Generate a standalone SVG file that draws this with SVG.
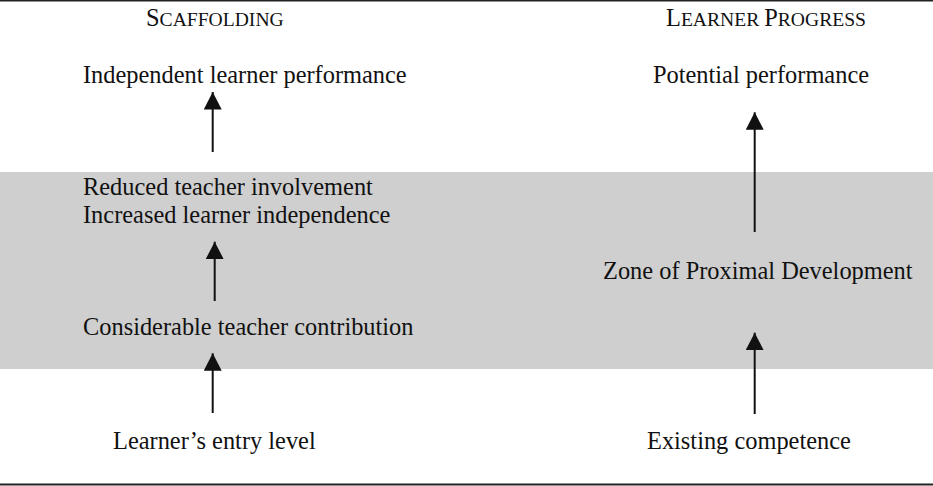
<svg xmlns="http://www.w3.org/2000/svg" width="933" height="486" viewBox="0 0 933 486">
<style>
text{font-family:"Liberation Serif","Times New Roman",serif;font-size:24.4px;fill:#111;}
.ttl{font-size:24.4px;}
.sc{font-size:19.6px;}
.conn line{stroke:#111;stroke-width:2;}
</style>
<defs>
<marker id="ah" markerUnits="userSpaceOnUse" markerWidth="18" markerHeight="18" refX="17.5" refY="9" orient="auto">
<path d="M0,0 L17.5,9 L0,18 Z" fill="#111"/>
</marker>
</defs>
<rect x="0" y="0" width="933" height="486" fill="#fff"/>
<rect id="zone-band" x="0" y="172" width="933" height="197" fill="#cfcfcf"/>
<line x1="0" y1="0.5" x2="933" y2="0.5" stroke="#222" stroke-width="2"/>
<line x1="0" y1="484.5" x2="933" y2="484.5" stroke="#222" stroke-width="2"/>

<g id="title-scaffolding"><text class="ttl" x="146" y="25.5">S<tspan class="sc">CAFFOLDING</tspan></text></g>
<g id="title-learner-progress"><text class="ttl" x="666" y="25.5">L<tspan class="sc">EARNER </tspan>P<tspan class="sc">ROGRESS</tspan></text></g>

<g id="node-independent"><text x="83" y="83">Independent learner performance</text></g>
<g id="node-reduced"><text x="83" y="195">Reduced teacher involvement</text><text x="83" y="223">Increased learner independence</text></g>
<g id="node-considerable"><text x="83" y="335">Considerable teacher contribution</text></g>
<g id="node-entry"><text x="113" y="449">Learner’s entry level</text></g>

<g id="node-potential"><text x="653" y="83">Potential performance</text></g>
<g id="node-zpd"><text x="603" y="279">Zone of Proximal Development</text></g>
<g id="node-existing"><text x="647" y="449">Existing competence</text></g>

<g id="connectors" class="conn">
<line x1="212.7" y1="152" x2="212.7" y2="92" marker-end="url(#ah)"/>
<line x1="214.7" y1="301" x2="214.7" y2="241.7" marker-end="url(#ah)"/>
<line x1="212.7" y1="413" x2="212.7" y2="353.3" marker-end="url(#ah)"/>
<line x1="754.7" y1="232" x2="754.7" y2="112.3" marker-end="url(#ah)"/>
<line x1="754.7" y1="414" x2="754.7" y2="332.7" marker-end="url(#ah)"/>
</g>
</svg>
